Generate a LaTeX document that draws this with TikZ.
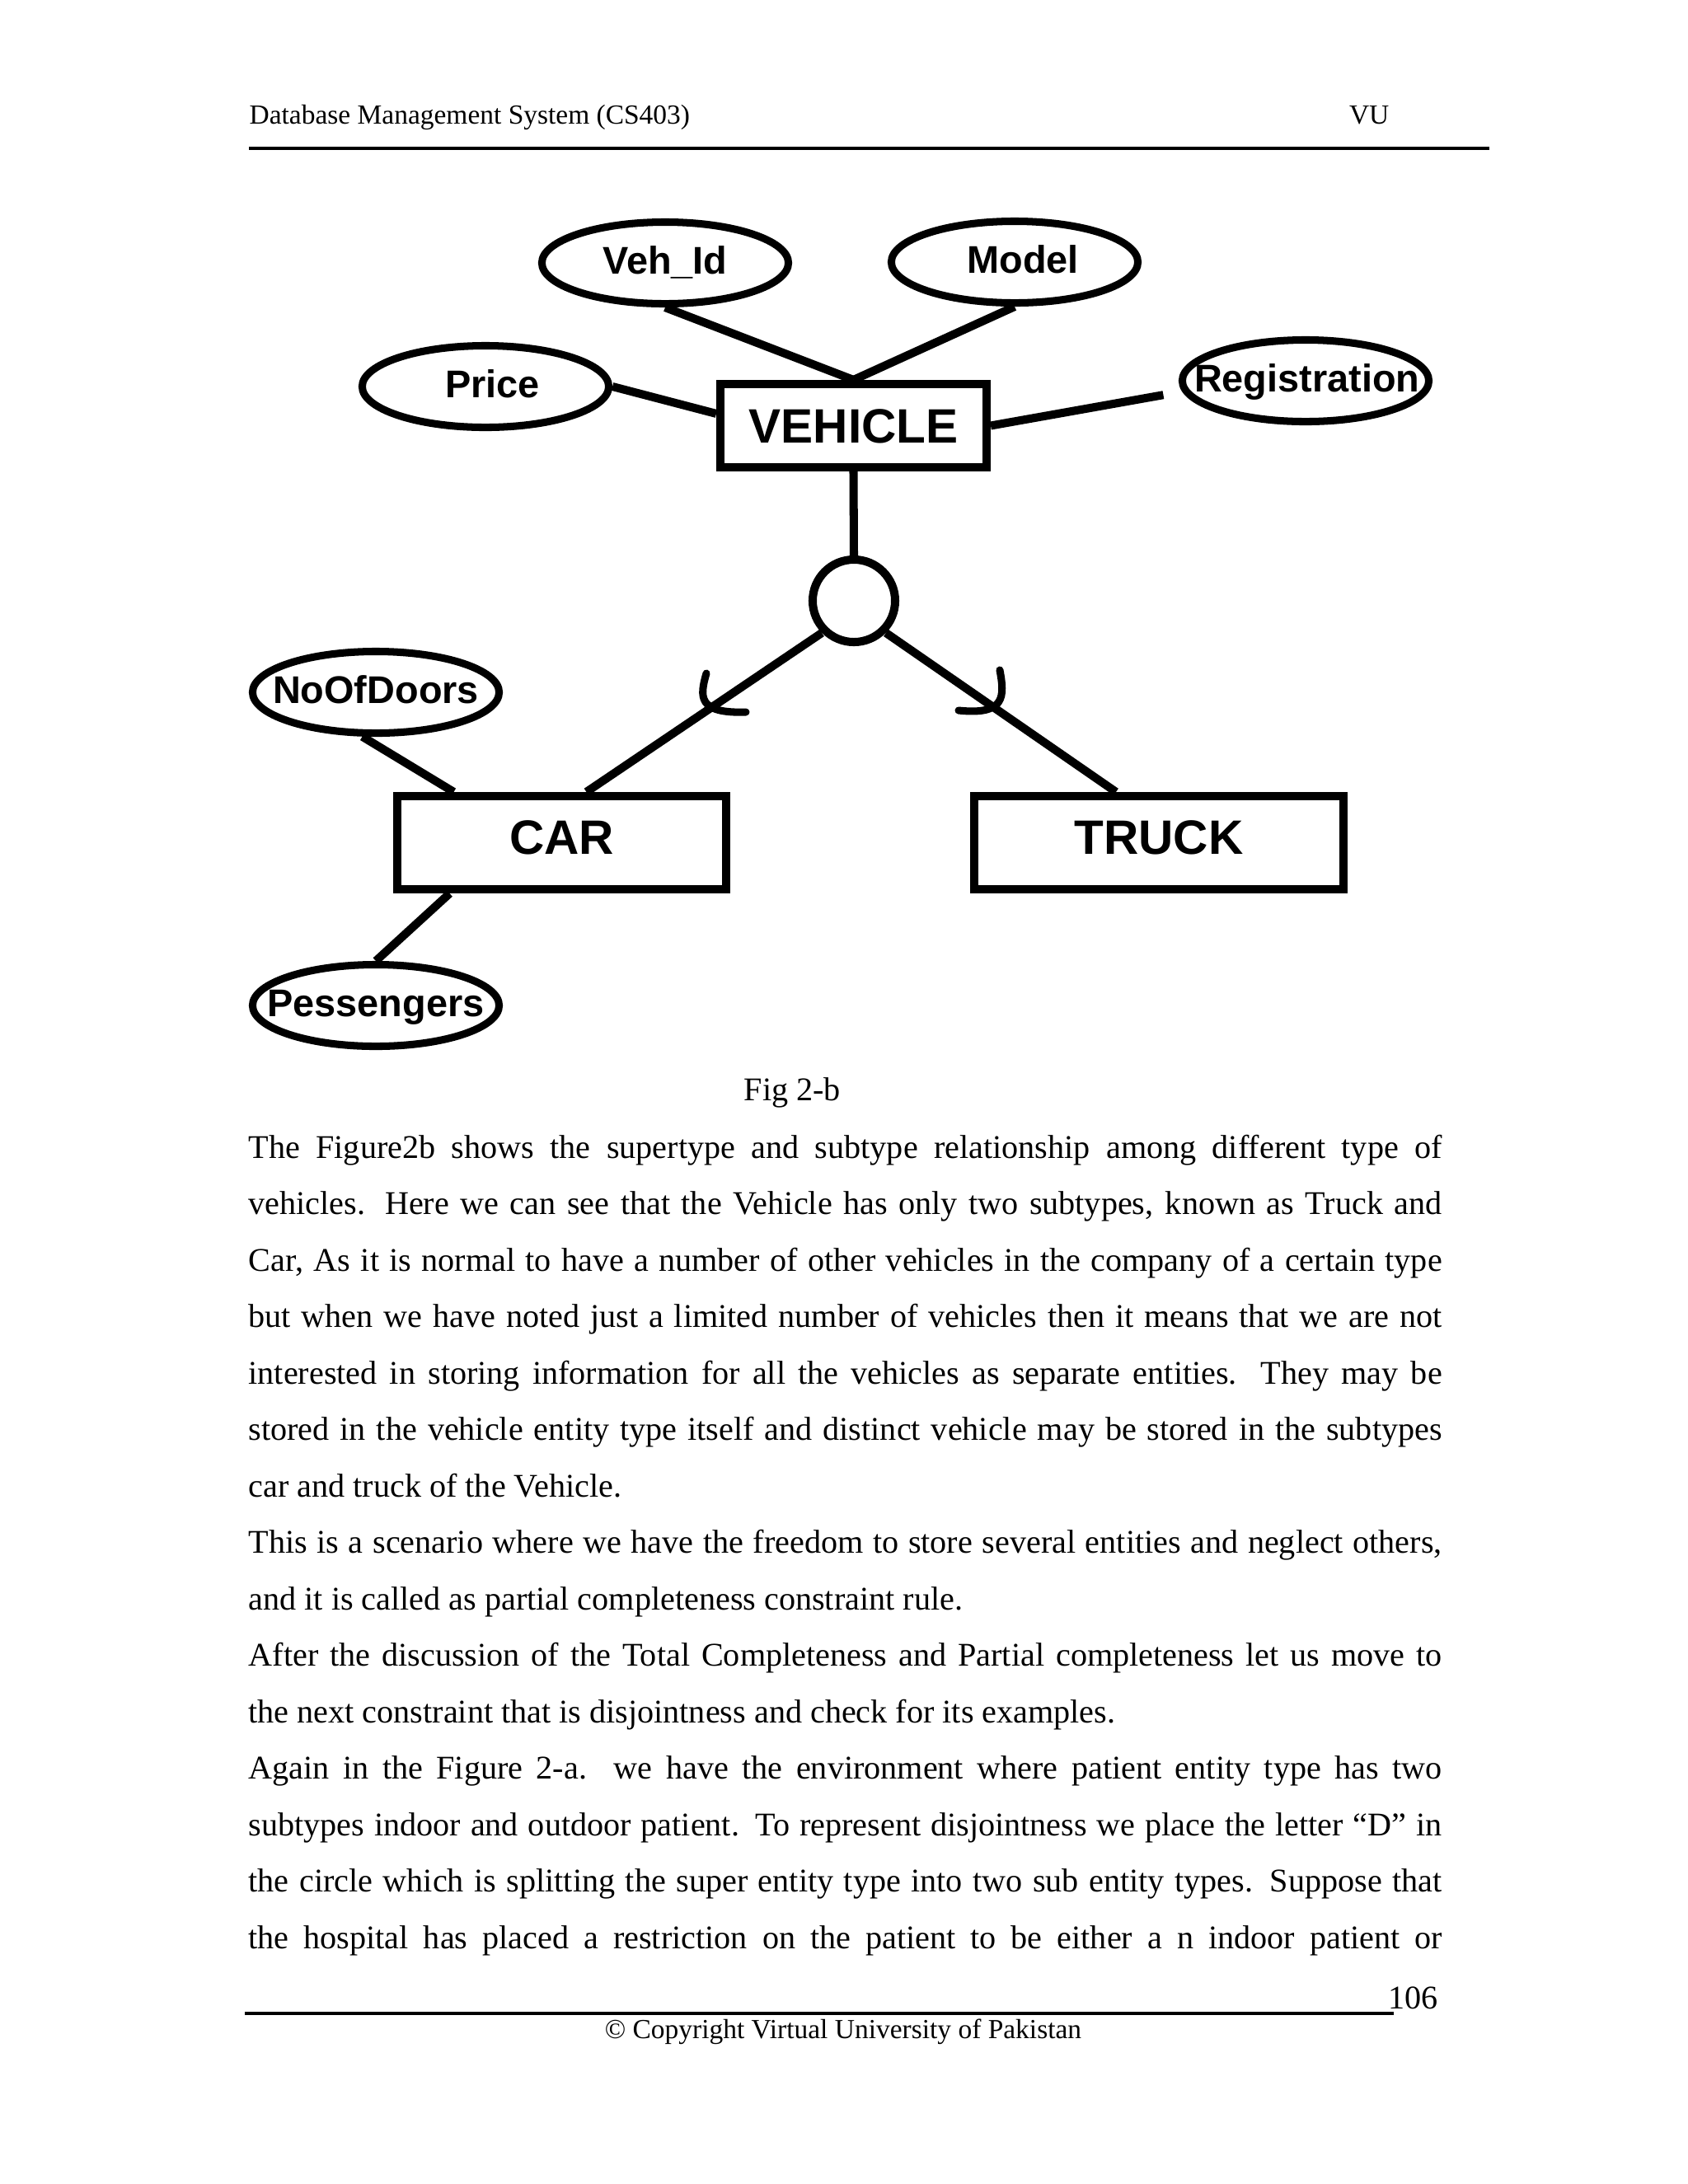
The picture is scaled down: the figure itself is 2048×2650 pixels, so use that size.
\documentclass[tikz,border=0pt]{standalone}
\usepackage{fontspec}
\setmainfont{Liberation Serif}
\setsansfont{Liberation Sans}
\usetikzlibrary{shapes.geometric,calc}
\newcommand{\attrfont}{\sffamily\bfseries\fontsize{14}{16}\selectfont}
\newcommand{\entfont}{\sffamily\bfseries\fontsize{17.5}{20}\selectfont}
\newcommand{\bodyfont}{\rmfamily\fontsize{12}{14}\selectfont}
\newcommand{\smallfont}{\rmfamily\fontsize{10}{12}\selectfont}
\newcommand{\jline}[1]{\makebox[432.7pt][s]{#1}}
\newcommand{\zw}[1]{\makebox[0pt]{#1}}
\tikzset{
  attr/.style={ellipse, draw, line width=2.7pt, minimum width=89.4pt, minimum height=29.6pt,
    inner sep=0pt, font=\attrfont, text height=10pt, text depth=2pt},
  entity/.style={rectangle, draw, line width=3pt, inner sep=0pt, font=\entfont,
    text height=12.5pt, text depth=0pt},
  subentity/.style={entity, text depth=4pt},
  conn/.style={line width=3pt},
  sub/.style={line width=2.7pt, line cap=round},
  rule/.style={line width=1pt},
  txt/.style={inner sep=0pt, anchor=base west, font=\bodyfont},
}
\begin{document}
\begin{tikzpicture}[x=0.298828pt, y=-0.298828pt]
\useasboundingbox (0,0) rectangle (2048,2650);
\fill[white] (0,0) rectangle (2048,2650);

% header
\node[inner sep=0pt, anchor=base west, font=\smallfont] (hdl) at (302,150) {Database Management System (CS403)};
\node[inner sep=0pt, anchor=base east, font=\smallfont] (hdr) at (1686,150) {VU};
\coordinate (hr1) at (302,180);
\coordinate (hr2) at (1807,180);
\draw[rule] (hr1) -- (hr2);

% entities
\node[entity, minimum width=96.5pt, minimum height=30.2pt] (vehicle) at (1035.5,516.5) {VEHICLE};
\node[subentity, minimum width=119.2pt, minimum height=33.8pt] (car) at (681.5,1022.5) {CAR};
\node[subentity, minimum width=133.9pt, minimum height=33.8pt] (truck) at (1406,1022.5) {TRUCK};

% attributes
\node[attr] (vehid) at (807,319) {\zw{Veh\_Id}};
\node[attr] (model) at (1231,318) {\zw{\hspace{6pt}Model}};
\node[attr] (price) at (589,469) {\zw{\hspace{5pt}Price}};
\node[attr] (reg) at (1584,462) {\zw{\hspace{1pt}Registration}};
\node[attr] (doors) at (456,840) {\zw{NoOfDoors}};
\node[attr] (pess) at (456,1220) {\zw{Pessengers}};

% specialization circle
\node[circle, draw, line width=3pt, minimum size=29.9pt, inner sep=0pt] (circ) at (1036,729) {};

% connectors
\draw[conn] (vehid.south) -- (vehicle.north);
\draw[conn] (model.south) -- (vehicle.north);
\draw[conn] (price.east) -- (vehicle.175);
\draw[conn, shorten >=7pt] (vehicle.east) -- (reg.185);
\draw[conn] (vehicle.south) -- (circ.north);
\draw[conn] (circ.225) -- ($(car.north)+(30,0)$);
\draw[conn] (circ.-45) -- ($(truck.north)+(-52,0)$);
\draw[conn] (doors.253) -- ($(car.north)+(-131,0)$);
\draw[conn] ($(car.south)+(-136,0)$) -- (pess.north);

% subset symbols
\draw[sub] (857,817) .. controls (849,845) and (846,866) .. (905,864);
\draw[sub] (1213,813) .. controls (1219,845) and (1220,868) .. (1163,862);

% caption
\node[txt] (cap) at (902,1335) {Fig 2-b};

% body text
\node[txt] (l1) at (301,1405) {\jline{The Figure2b shows the supertype and subtype relationship among different type of}};
\node[txt] (l2) at (301,1473.5) {\jline{vehicles. Here we can see that the Vehicle has only two subtypes, known as Truck and}};
\node[txt] (l3) at (301,1542) {\jline{Car, As it is normal to have a number of other vehicles in the company of a certain type}};
\node[txt] (l4) at (301,1610.5) {\jline{but when we have noted just a limited number of vehicles then it means that we are not}};
\node[txt] (l5) at (301,1679) {\jline{interested in storing information for all the vehicles as separate entities. They may be}};
\node[txt] (l6) at (301,1747.5) {\jline{stored in the vehicle entity type itself and distinct vehicle may be stored in the subtypes}};
\node[txt] (l7) at (301,1816) {car and truck of the Vehicle.};
\node[txt] (l8) at (301,1884.5) {\jline{This is a scenario where we have the freedom to store several entities and neglect others,}};
\node[txt] (l9) at (301,1953) {and it is called as partial completeness constraint rule.};
\node[txt] (l10) at (301,2021.5) {\jline{After the discussion of the Total Completeness and Partial completeness let us move to}};
\node[txt] (l11) at (301,2090) {the next constraint that is disjointness and check for its examples.};
\node[txt] (l12) at (301,2158.5) {\jline{Again in the Figure 2-a. we have the environment where patient entity type has two}};
\node[txt] (l13) at (301,2227) {\jline{subtypes indoor and outdoor patient. To represent disjointness we place the letter “D” in}};
\node[txt] (l14) at (301,2295.5) {\jline{the circle which is splitting the super entity type into two sub entity types. Suppose that}};
\node[txt] (l15) at (301,2364) {\jline{the hospital has placed a restriction on the patient to be either a n indoor patient or}};

% footer
\node[inner sep=0pt, anchor=base east, font=\bodyfont] (pg) at (1745,2437) {106};
\coordinate (fr1) at (297,2443);
\coordinate (fr2) at (1691,2443);
\draw[rule] (fr1) -- (fr2);
\node[inner sep=0pt, anchor=base, font=\smallfont] (copy) at (1023,2473) {© Copyright Virtual University of Pakistan};
\end{tikzpicture}
\end{document}
